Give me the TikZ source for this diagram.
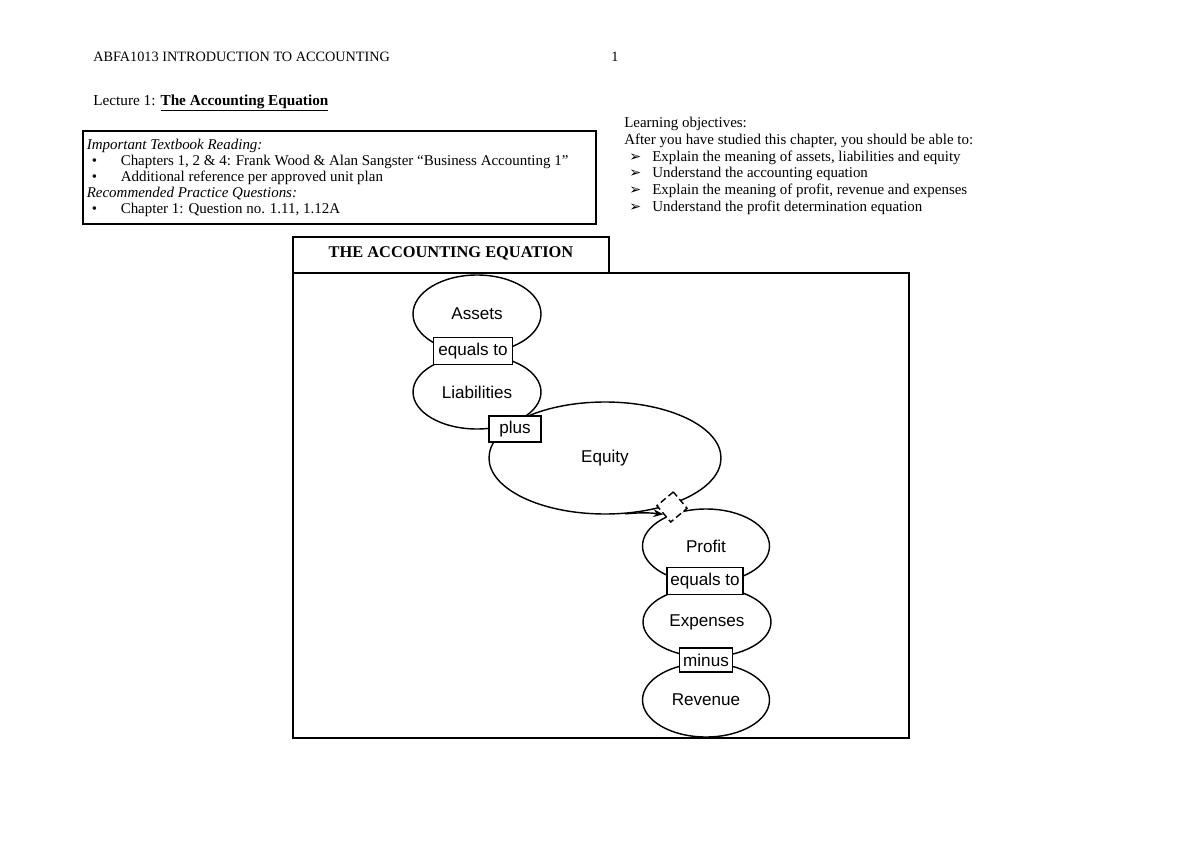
\documentclass[tikz,border=0pt]{standalone}
\usepackage{fontspec}
\setmainfont{Liberation Serif}
\setsansfont{Liberation Sans}
\newfontfamily\dingfont{DejaVu Sans}
\usetikzlibrary{shapes.geometric, arrows.meta}

\begin{document}
\begin{tikzpicture}[x=0.7017pt, y=-0.7017pt,
		plain/.style = {anchor=west, inner sep=0pt, font=\fontsize{10.5}{12}\selectfont},
		oval/.style = {ellipse, draw, line width=1pt, inner sep=0pt, font=\sffamily\fontsize{12}{14}\selectfont},
		word/.style = {draw, fill=white, line width=1.1pt, inner sep=0pt, minimum height=27*\u, font=\sffamily\fontsize{12}{14}\selectfont}]
		\def\u{0.7017pt};
		\def\bx{91};
		\def\tx{120};
		\def\lx{624};
		
		\useasboundingbox (0,0) rectangle (1200,849);
		
		\begin{scope}
		\node [plain, font=\fontsize{10}{12}\selectfont] (course) at (93,57) {ABFA1013 INTRODUCTION TO ACCOUNTING};
		\node [plain, font=\fontsize{10}{12}\selectfont] (page) at (611,57) {1};
		\node [plain, font=\fontsize{10.7}{12}\selectfont] (lecture) at (93,103) {Lecture 1: \textbf{\underline{The Accounting Equation}}};
		\end{scope}
		
		\begin{scope}[line width=1.1pt]
		\draw (83,131) rectangle (596,224);
		\node [plain] (reading) at (86,146) {\itshape Important Textbook Reading:};
		\node [plain] (dotA) at (\bx,162) {•};
		\node [plain] (chapters) at (\tx,162) {Chapters 1, 2 \& 4: Frank Wood \& Alan Sangster “Business Accounting 1”};
		\node [plain] (dotB) at (\bx,178) {•};
		\node [plain] (extra) at (\tx,178) {Additional reference per approved unit plan};
		\node [plain] (practice) at (86,194) {\itshape Recommended Practice Questions:};
		\node [plain] (dotC) at (\bx,210) {•};
		\node [plain] (question) at (\tx,210) {Chapter 1: Question no. 1.11, 1.12A};
		\end{scope}
		
		\begin{scope}
		\node [plain] (goals) at (\lx,124) {Learning objectives:};
		\node [plain] (after) at (\lx,141) {After you have studied this chapter, you should be able to:};
		\foreach \y/\t [count=\i] in {158/{Explain the meaning of assets, liabilities and equity},
				174/{Understand the accounting equation},
				191/{Explain the meaning of profit, revenue and expenses},
				208/{Understand the profit determination equation}}
		{
			\node [plain, font=\dingfont\fontsize{10}{12}\selectfont] (tip\i) at (629,\y) {➢};
			\node [plain] (goal\i) at (652,\y) {\t};
		}
		\end{scope}
		
		\begin{scope}[line width=1.1pt]
		\draw (293,237) rectangle (609,273);
		\draw (293,273) rectangle (909,738);
		\node [font=\bfseries\fontsize{11.5}{13}\selectfont] (title) at (451,253) {THE ACCOUNTING EQUATION};
		\end{scope}
		
		\begin{scope}
		\node [oval, minimum width=128*\u, minimum height=78*\u] (assets) at (477,314) {Assets};
		\node [oval, minimum width=128*\u, minimum height=74*\u] (liabilities) at (477,392) {Liabilities};
		\node [oval, minimum width=232*\u, minimum height=112*\u] (equity) at (605,458) {Equity};
		\node [oval, minimum width=127*\u, minimum height=74*\u] (profit) at (706,546) {Profit};
		\node [oval, minimum width=128*\u, minimum height=70*\u] (expenses) at (707,622) {Expenses};
		\node [oval, minimum width=127*\u, minimum height=74*\u] (revenue) at (706,700) {Revenue};
		\end{scope}
		
		\begin{scope}
		\node [word, minimum width=79*\u] (equalsA) at (473,351) {equals to};
		\node [word, minimum width=52*\u, minimum height=26*\u] (plus) at (515,429) {plus};
		\node [word, minimum width=76*\u] (equalsB) at (705,581) {equals to};
		\node [word, minimum width=53*\u, minimum height=24*\u] (minus) at (706,660) {minus};
		\node [draw, fill=white, line width=1pt, dash pattern=on 4.5pt off 2.5pt, rotate=40, minimum size=15pt] (link) at (672,507) {};
		\draw [line width=1pt, -{Stealth[length=7pt, width=5.5pt]}] (equity.-70) to [bend left=6] (link.west);
		\end{scope}
	\end{tikzpicture}
\end{document}
